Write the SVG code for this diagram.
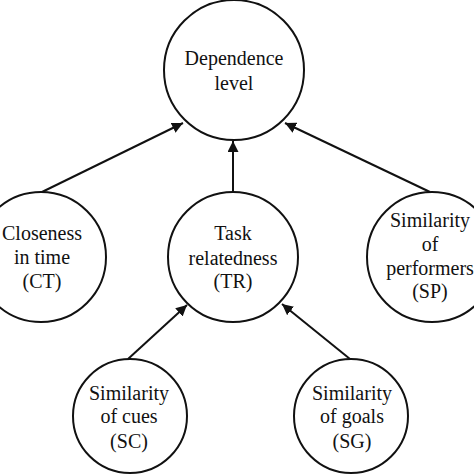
<svg xmlns="http://www.w3.org/2000/svg" width="474" height="474" viewBox="0 0 474 474">
<defs>
<marker id="ah" viewBox="0 0 10 10" refX="10" refY="5" markerWidth="5.5" markerHeight="5.5" orient="auto" markerUnits="strokeWidth">
<path d="M0,0 L10,5 L0,10 z" fill="#111"/>
</marker>
</defs>
<style>
.n circle{fill:#fff;stroke:#111;stroke-width:2}
.n text{font-family:"Liberation Serif","Times New Roman",serif;font-size:20px;fill:#111;text-anchor:middle}
.c line{stroke:#111;stroke-width:2;marker-end:url(#ah)}
</style>
<rect width="474" height="474" fill="#fff"/>
<g class="c" id="connectors">
<line x1="42" y1="192" x2="183" y2="123"/>
<line x1="430" y1="192" x2="285" y2="123"/>
<line x1="233" y1="192" x2="233" y2="141"/>
<line x1="128" y1="359" x2="187" y2="305"/>
<line x1="350" y1="359" x2="282" y2="304"/>
</g>
<g class="n" id="dependence">
<circle cx="234" cy="70" r="70"/>
<text x="234" y="65">Dependence</text>
<text x="234" y="90">level</text>
</g>
<g class="n" id="ct">
<circle cx="41" cy="257" r="65"/>
<text x="42" y="240">Closeness</text>
<text x="42" y="264">in time</text>
<text x="42" y="288">(CT)</text>
</g>
<g class="n" id="tr">
<circle cx="233" cy="257" r="65"/>
<text x="233" y="240">Task</text>
<text x="233" y="265">relatedness</text>
<text x="233" y="288">(TR)</text>
</g>
<g class="n" id="sp">
<circle cx="432" cy="257" r="65"/>
<text x="430" y="227">Similarity</text>
<text x="430" y="251">of</text>
<text x="430" y="275">performers</text>
<text x="430" y="298">(SP)</text>
</g>
<g class="n" id="sc">
<circle cx="130" cy="416" r="57"/>
<text x="129" y="400">Similarity</text>
<text x="129" y="423">of cues</text>
<text x="129" y="448">(SC)</text>
</g>
<g class="n" id="sg">
<circle cx="351" cy="416" r="57"/>
<text x="352" y="400">Similarity</text>
<text x="352" y="423">of goals</text>
<text x="352" y="448">(SG)</text>
</g>
</svg>
